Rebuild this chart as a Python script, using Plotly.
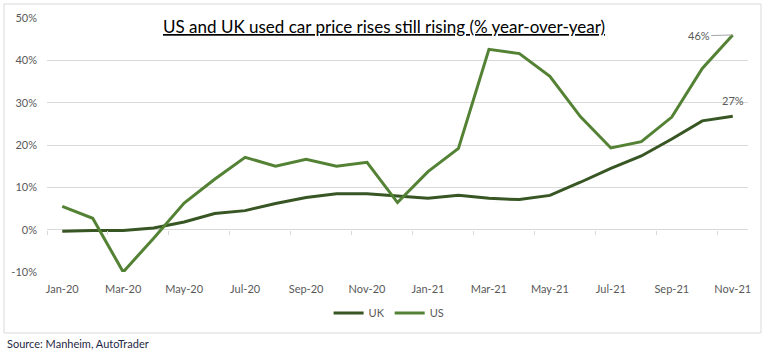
import plotly.graph_objects as go

months = ["Jan-20", "Feb-20", "Mar-20", "Apr-20", "May-20", "Jun-20", "Jul-20", "Aug-20",
          "Sep-20", "Oct-20", "Nov-20", "Dec-20", "Jan-21", "Feb-21", "Mar-21", "Apr-21",
          "May-21", "Jun-21", "Jul-21", "Aug-21", "Sep-21", "Oct-21", "Nov-21"]
uk = [-0.4, -0.2, -0.2, 0.4, 1.8, 3.8, 4.5, 6.2, 7.6, 8.5, 8.5, 8.0,
      7.4, 8.1, 7.4, 7.1, 8.1, 11.2, 14.5, 17.4, 21.4, 25.7, 26.8]
us = [5.5, 2.7, -10.0, -2.0, 6.3, 11.9, 17.1, 15.0, 16.6, 15.0, 15.9, 6.4,
      13.7, 19.2, 42.6, 41.6, 36.2, 26.7, 19.3, 20.8, 26.6, 38.1, 46.0]
yticks = [-10, 0, 10, 20, 30, 40, 50]
title = "US and UK used car price rises still rising (% year-over-year)"
source = "Source: Manheim, AutoTrader"

UK_COLOR = "#375623"
US_COLOR = "#548235"
GRID = "#D9D9D9"
TXT = "#595959"
FONT = "Lato"

W, H = 767, 352
L, R, T, B = 47, 19, 18, 80
pw, ph = W - L - R, H - T - B

def px_x(p):
    return (p - L) / pw

def px_y(p):
    return (H - B - p) / ph

fig = go.Figure()
fig.add_trace(go.Scatter(x=months, y=uk, name="UK", mode="lines",
                         line=dict(color=UK_COLOR, width=3)))
fig.add_trace(go.Scatter(x=months, y=us, name="US", mode="lines",
                         line=dict(color=US_COLOR, width=3)))

n = len(months)
fig.update_layout(
    width=W, height=H,
    margin=dict(l=L, r=R, t=T, b=B, pad=0),
    paper_bgcolor="white", plot_bgcolor="white",
    font=dict(family=FONT, size=11, color=TXT),
    showlegend=True,
    legend=dict(orientation="h", x=0.488, xanchor="center", y=px_y(313), yanchor="middle",
                font=dict(size=11, color=TXT), itemwidth=30, tracegroupgap=0),
    xaxis=dict(type="category", range=[-0.5, n - 0.5],
               tickmode="array", tickvals=months[::2], ticktext=months[::2],
               showgrid=False, zeroline=False, showline=False, ticks="",
               ticklabelstandoff=9, tickfont=dict(size=11, color=TXT)),
    xaxis2=dict(overlaying="x", anchor="free", position=(0 - yticks[0]) / (yticks[-1] - yticks[0]),
                range=[-0.5, n - 0.5], tickmode="array",
                tickvals=[i - 0.5 for i in range(0, n, 2)],
                ticks="outside", ticklen=4, tickcolor=GRID, tickwidth=1,
                showticklabels=False, showgrid=False, zeroline=False, showline=False),
    yaxis=dict(range=[yticks[0], yticks[-1]], tickmode="array", tickvals=yticks,
               ticktext=[f"{v}%" for v in yticks],
               showgrid=True, gridcolor=GRID, gridwidth=1, zeroline=False,
               showline=False, ticks="", ticklabelstandoff=9,
               tickfont=dict(size=11, color=TXT)),
)

fig.add_trace(go.Scatter(x=[-0.5, n - 0.5], y=[0, 0], xaxis="x2", mode="lines",
                         line=dict(color="rgba(0,0,0,0)"), showlegend=False, hoverinfo="skip"))

# chart border
fig.add_shape(type="rect", xref="paper", yref="paper",
              x0=px_x(4), x1=px_x(761), y0=px_y(333), y1=px_y(4),
              line=dict(color=GRID, width=1), layer="below")

# title
fig.add_annotation(text=f"<u>{title}</u>", xref="paper", yref="paper",
                   x=px_x(384), y=px_y(26), xanchor="center", yanchor="middle",
                   showarrow=False, font=dict(family=FONT, size=17, color="black"))

# source
fig.add_annotation(text=source, xref="paper", yref="paper",
                   x=px_x(5), y=px_y(343), xanchor="left", yanchor="middle",
                   showarrow=False, font=dict(family=FONT, size=11, color="#1F2A44"))

# end labels
fig.add_annotation(text=f"{us[-1]:.0f}%", x=months[-1], y=us[-1], xref="x", yref="y",
                   showarrow=True, arrowhead=0, arrowwidth=1, arrowcolor="#A6A6A6",
                   ax=-34, ay=1, font=dict(size=11, color=TXT), standoff=0)
fig.add_annotation(text=f"{uk[-1]:.0f}%", x=months[-1], y=uk[-1], xref="x", yref="y",
                   showarrow=False, yanchor="bottom", yshift=7,
                   font=dict(size=11, color=TXT))

fig.write_html("out.html")
